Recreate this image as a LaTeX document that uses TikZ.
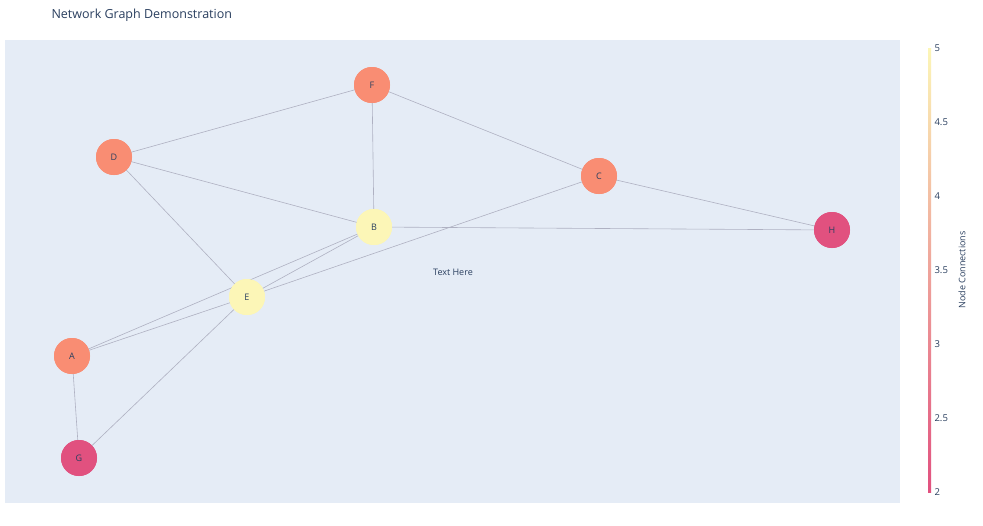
\documentclass[tikz,border=0pt]{standalone}
\usepackage{fontspec}
\setmainfont{Open Sans}
\definecolor{bgc}{HTML}{E5ECF6}
\definecolor{txt}{HTML}{2A3F5F}
\definecolor{c2}{HTML}{E1517F}
\definecolor{c3}{HTML}{F98D73}
\definecolor{c5}{HTML}{FCF6B7}
\definecolor{edgec}{HTML}{AFB1C2}
\begin{document}
\begin{tikzpicture}[x=1pt,y=-1pt,
  nd/.style={circle,minimum size=36pt,inner sep=0pt,text=txt,font=\fontsize{9}{10}\selectfont},
  ed/.style={draw=edgec,line width=0.6pt},
  tk/.style={text=txt,font=\fontsize{9.5}{11}\selectfont,anchor=west}]
\useasboundingbox (0,0) rectangle (983,525);
\fill[white] (0,0) rectangle (983,525);
\fill[bgc] (5,40) rectangle (900,503);
\node[anchor=west,text=txt,font=\fontsize{12.5}{14}\selectfont] (title) at (48,15) {Network Graph Demonstration};
\node[nd,fill=c3] (F) at (372,85) {F};
\node[nd,fill=c3] (D) at (114,157) {D};
\node[nd,fill=c3] (C) at (599,176) {C};
\node[nd,fill=c5] (B) at (374,227) {B};
\node[nd,fill=c2] (H) at (832,230) {H};
\node[nd,fill=c5] (E) at (247,297) {E};
\node[nd,fill=c3] (A) at (72,356) {A};
\node[nd,fill=c2] (G) at (79,458) {G};
\begin{scope}[on background layer/.style={}]
\end{scope}
\begin{pgfonlayer}{main}\end{pgfonlayer}
\foreach \a/\b in {F/D,F/C,F/B,D/B,D/E,C/H,C/E,B/H,B/E,B/A,E/A,E/G,A/G}
  \draw[ed] (\a.center) -- (\b.center);
\foreach \n/\c/\p in {F/c3/{372,85},D/c3/{114,157},C/c3/{599,176},B/c5/{374,227},H/c2/{832,230},E/c5/{247,297},A/c3/{72,356},G/c2/{79,458}}
  \node[nd,fill=\c] at (\p) {\n};
\node[text=txt,font=\fontsize{9}{10}\selectfont] (lbl) at (453,272) {Text Here};
\shade[bottom color=c2, middle color=c3, top color=c5] (928,48) rectangle (931,492);
\foreach \v/\y in {5/48,4.5/122,4/196.5,3.5/270.5,3/344.5,2.5/418.5,2/492}
  \node[tk] at (931,\y) {\v};
\node[text=txt,font=\fontsize{9}{10}\selectfont,rotate=90] (cbl) at (962,270) {Node Connections};
\end{tikzpicture}
\end{document}
